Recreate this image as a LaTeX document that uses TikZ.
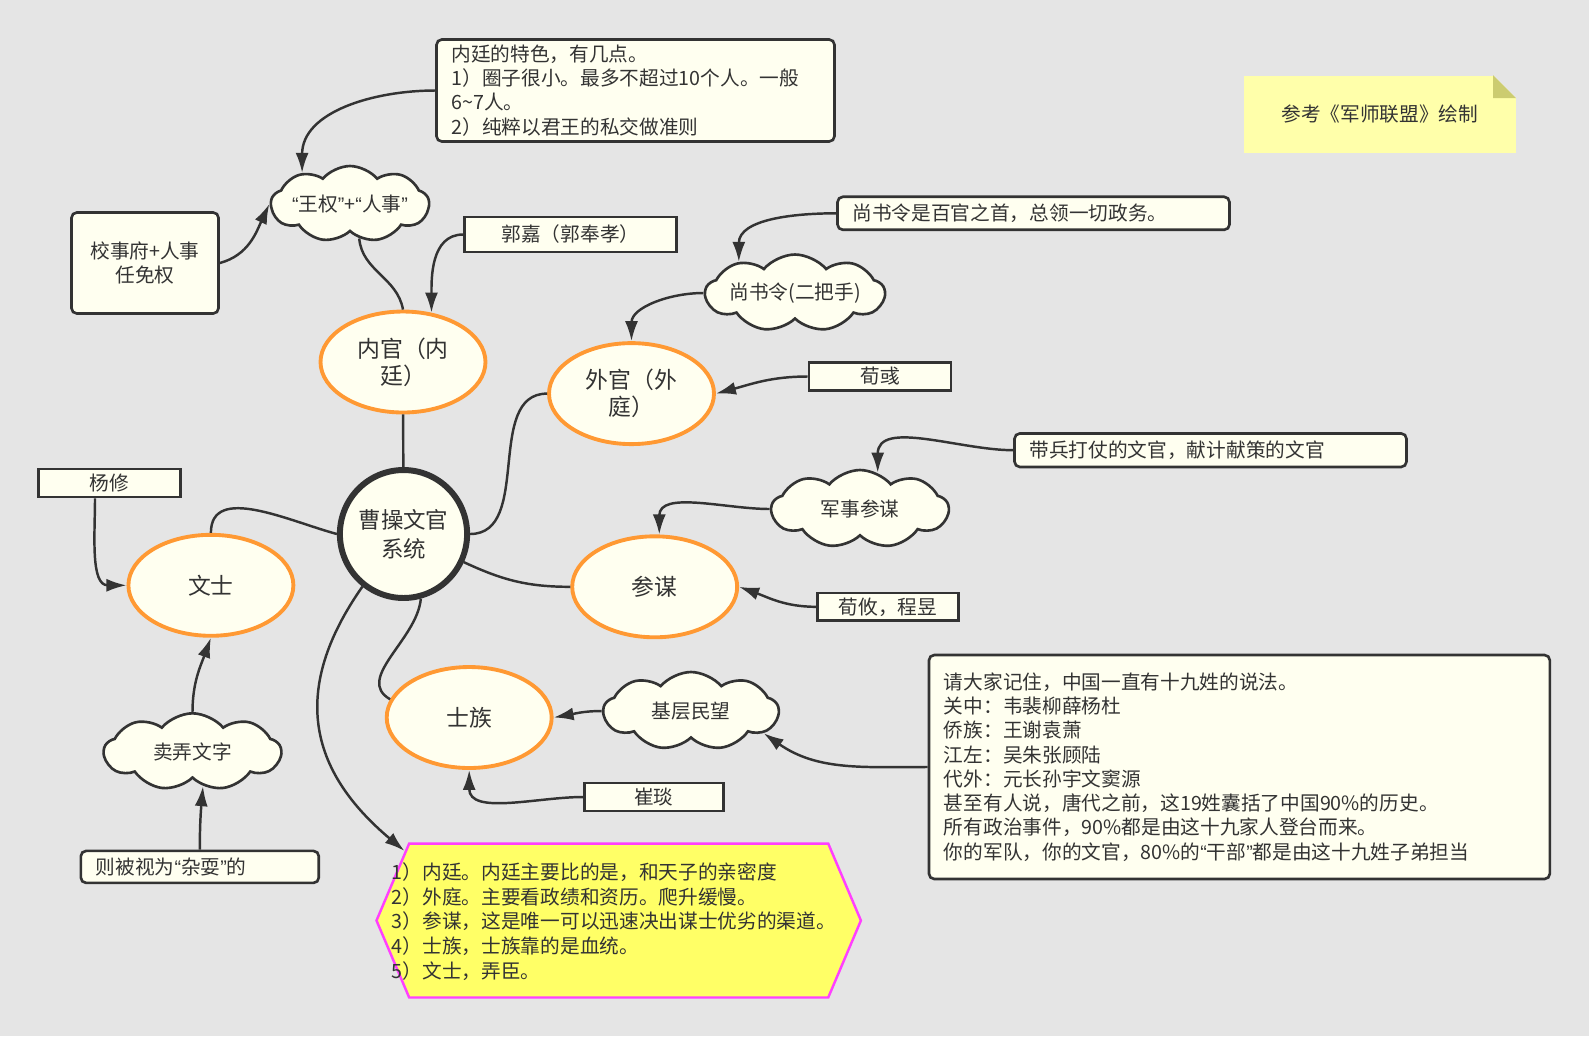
\documentclass[tikz,border=0pt]{standalone}
\usepackage{fontspec}
\setmainfont{Noto Sans CJK SC}
\newfontfamily\westfont{Liberation Sans}
\usepackage{tikz}
\usetikzlibrary{arrows.meta, shapes.geometric, shapes.symbols}

\definecolor{canvas}{HTML}{E5E5E5}
\definecolor{ink}{HTML}{333333}
\definecolor{ivory}{HTML}{FFFFF0}
\definecolor{orangeline}{HTML}{FF9933}
\definecolor{tipfill}{HTML}{FFFF66}
\definecolor{tipline}{HTML}{FF40FF}
\definecolor{notefill}{HTML}{FFFFAA}
\definecolor{notefold}{HTML}{CCCC70}

\begin{document}
\begin{tikzpicture}[
        x=0.02cm, y=-0.02cm,
        hub/.style={ellipse, draw=ink, line width=3.4pt, fill=ivory, text=ink, minimum width=2.54cm, minimum height=2.56cm, inner sep=0pt, align=center, font=\fontsize{12.8}{16.4}\selectfont},
        branch/.style={ellipse, draw=orangeline, line width=2.2pt, fill=ivory, text=ink, minimum width=3.3cm, minimum height=2.02cm, inner sep=0pt, align=center, font=\fontsize{13}{15.5}\selectfont},
        tagbox/.style={rectangle, draw=ink, line width=1.5pt, fill=ivory, text=ink, inner sep=0pt, font=\fontsize{11.2}{13.8}\selectfont},
        memo/.style={tagbox, rounded corners=3pt, align=left, inner xsep=0.3cm},
        cloudbox/.style={cloud, cloud puffs=9, cloud puff arc=100, cloud ignores aspect, draw=ink, line width=1.5pt, fill=ivory, text=ink, inner sep=0pt, font=\fontsize{11.2}{13.8}\selectfont},
        tipsbox/.style={signal, signal to=west and east, signal pointer angle=134, draw=tipline, line width=1.4pt, fill=tipfill, minimum width=9.69cm, minimum height=3.08cm, inner sep=0pt},
        tipstext/.style={text width=9.07cm, align=left, inner sep=0pt, text=ink, font=\fontsize{11.2}{14}\selectfont},
        credit/.style={rectangle, fill=notefill, text=ink, minimum width=5.44cm, minimum height=1.54cm, inner sep=0pt, font=\fontsize{11.2}{13.8}\selectfont},
        wire/.style={draw=ink, line width=1.4pt},
        feed/.style={wire, -{Latex[length=4mm, width=2.6mm]}},
    ]
        \fill[canvas] (0,0) rectangle (1589,1036);
        \useasboundingbox (0,0) rectangle (1589,1036);

        \node[hub] (hub) at (403.5,534) {曹操文官\\系统};
        \node[branch] (inner) at (403,362) {内官（内\\廷）};
        \node[branch] (outer) at (631.5,393.6) {外官（外\\庭）};
        \node[branch] (staff) at (654.7,586.8) {参谋};
        \node[branch] (clan) at (469.2,717.5) {士族};
        \node[branch] (scholar) at (210.9,585.3) {文士};

        \node[cloudbox, minimum width=3.0cm, minimum height=1.52cm] (wangquan) at (350,204) {{\westfont “}王权{\westfont ”}+{\westfont “}人事{\westfont ”}};
        \node[cloudbox, minimum width=3.56cm, minimum height=1.54cm] (shangshu) at (795,293) {尚书令(二把手)};
        \node[cloudbox, minimum width=3.54cm, minimum height=1.56cm] (junshi) at (860,509) {军事参谋};
        \node[cloudbox, minimum width=3.5cm, minimum height=1.56cm] (grassroots) at (691,711) {基层民望};
        \node[cloudbox, minimum width=3.54cm, minimum height=1.54cm] (flaunt) at (192.5,751.8) {卖弄文字};

        \node[memo, align=center, minimum width=2.94cm, minimum height=2.02cm] (xiaoshi) at (145,263) {校事府+人事\\任免权};
        \node[memo, text width=7.36cm, minimum height=2.04cm] (traits) at (635.5,90.5) {内廷的特色，有几点。\\1）圈子很小。最多不超过10个人。一般\\6\textasciitilde7人。\\2）纯粹以君王的私交做准则};
        \node[tagbox, minimum width=4.24cm, minimum height=0.7cm] (guojia) at (570.5,234.5) {郭嘉（郭奉孝）};
        \node[memo, text width=7.24cm, minimum height=0.66cm] (shangshubox) at (1033.5,213.3) {尚书令是百官之首，总领一切政务。};
        \node[tagbox, minimum width=2.84cm, minimum height=0.56cm] (xunyu) at (880,376.5) {荀彧};
        \node[memo, text width=7.24cm, minimum height=0.67cm] (daibing) at (1210.5,450.2) {带兵打仗的文官，献计献策的文官};
        \node[tagbox, minimum width=2.82cm, minimum height=0.56cm] (xunyou) at (888,606.8) {荀攸，程昱};
        \node[memo, text width=11.82cm, minimum height=4.48cm] (families) at (1239.4,767) {请大家记住，中国一直有十九姓的说法。\\关中：韦裴柳薛杨杜\\侨族：王谢袁萧\\江左：吴朱张顾陆\\代外：元长孙宇文窦源\\甚至有人说，唐代之前，这19姓囊括了中国90\%的历史。\\所有政治事件，90\%都是由这十九家人登台而来。\\你的军队，你的文官，80\%的{\westfont “}干部{\westfont ”}都是由这十九姓子弟担当};
        \node[tagbox, minimum width=2.78cm, minimum height=0.56cm] (cuiyan) at (653.7,797) {崔琰};
        \node[memo, text width=4.16cm, minimum height=0.64cm] (juggler) at (199.8,866.9) {则被视为{\westfont “}杂耍{\westfont ”}的};
        \node[tagbox, minimum width=2.84cm, minimum height=0.56cm] (yangxiu) at (109.5,483) {杨修};

        \node[tipsbox] (tips) at (618.7,920.5) {};
        \node[tipstext] (tipslines) at (618.7,921.5) {1）内廷。内廷主要比的是，和天子的亲密度\\2）外庭。主要看政绩和资历。爬升缓慢。\\3）参谋，这是唯一可以迅速决出谋士优劣的渠道。\\4）士族，士族靠的是血统。\\5）文士，弄臣。};

        \node[credit] (note) at (1379.8,114) {参考《军师联盟》绘制};
        \fill[canvas] ([xshift=-0.46cm]note.north east) -- (note.north east) -- ([yshift=-0.46cm]note.north east) -- cycle;
        \fill[notefold] ([xshift=-0.46cm]note.north east) -- ([xshift=-0.46cm, yshift=-0.46cm]note.north east) -- ([yshift=-0.46cm]note.north east) -- cycle;

        \draw[wire] (hub) -- (inner);
        \draw[wire] (inner.north) to[out=100, in=-85] (wangquan.-75);
        \draw[feed] (guojia.west) to[out=180, in=90] (inner.60);
        \draw[feed] (traits.west) to[out=180, in=90] (wangquan.147);
        \draw[feed] (xiaoshi.east) to[out=15, in=245] (wangquan.west);
        \draw[wire] (hub.east) to[out=0, in=180] (outer.west);
        \draw[feed] (shangshu.west) to[out=180, in=90] (outer.north);
        \draw[feed] (shangshubox.west) to[out=180, in=90] (shangshu.151);
        \draw[feed] (xunyu.west) to[out=180, in=15] (outer.east);
        \draw[wire] (hub.-25) to[out=-25, in=180] (staff.west);
        \draw[feed] (junshi.west) to[out=180, in=90] (staff.85);
        \draw[feed] (daibing.west) to[out=180, in=90] (junshi.64);
        \draw[feed] (xunyou.west) to[out=180, in=-20] (staff.east);
        \draw[wire] (hub.285) to[out=265, in=150] (clan.167);
        \draw[feed] (grassroots.west) to[out=180, in=10] (clan.east);
        \draw[feed] (families.west) to[out=180, in=-35] (grassroots.-17);
        \draw[feed] (cuiyan.west) to[out=180, in=-90] (clan.south);
        \draw[wire] (hub.west) to[out=165, in=90] (scholar.north);
        \draw[feed] ([xshift=-0.29cm]yangxiu.south) to[out=270, in=180] (scholar.west);
        \draw[feed] (flaunt.north) to[out=90, in=-110] (scholar.south);
        \draw[feed] (juggler.north) to[out=90, in=-95] (flaunt.-73);
        \draw[feed] (hub.232) to[out=235, in=140, looseness=1.2] (tips.162);
    \end{tikzpicture}
\end{document}
